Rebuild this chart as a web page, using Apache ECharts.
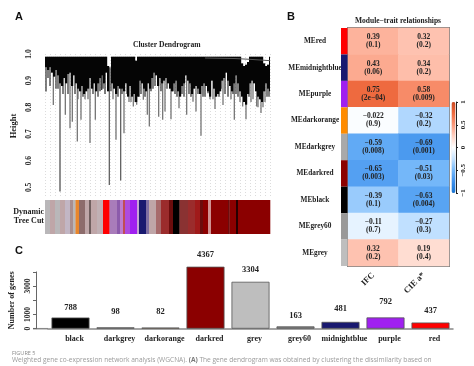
<!DOCTYPE html>
<html><head><meta charset="utf-8">
<style>html,body{margin:0;padding:0;background:#fff}#c{width:474px;height:366px}</style>
<script src="https://cdn.jsdelivr.net/npm/echarts@6/dist/echarts.min.js"></script>
</head><body><div id="c"></div>
<script>
const SERIF = '"Liberation Serif"';
// Panel A: dendrogram, one lower edge of the solid mass per leaf group (left to right)
const treeCore = [
 .95,.94,.95,.93,.915,.94,.92,.89,.88,.91,.89,.925,.93,.88,.92,.89,.87,.86,.88,.85,.86,.87,.91,.87,.89,.86,.89,.91,.92,.89,.93,.86,.94,.89,.87,.85,
 .88,.87,.87,.86,.89,.84,.88,.84,.85,.82,.84,.9,.89,.87,.86,.89,.87,.91,.93,.92,.88,.91,.89,.9,.91,.89,.87,.86,.89,.9,.86,.84,.88,.89,.92,.9,.89,.85,.87,
 .88,.87,.85,.88,.89,.88,.86,.84,.9,.87,.84,.85,.86,.9,.91,.93,.9,.88,.86,.89,.92,.89,.86,.84,.82,.81,.85,.89,.9,.89,.86,.84,.83,.82,.86,.89,.87,.86];
const treeTopDefault = 0.99;
const treeNotches = [[31,.955],[32,.94],[45,.975],[98,.965],[99,.955],[100,.96],[101,.97],[109,.965],[110,.955],[111,.96]];
const treeSpikes = [[1,.859],[8.3,.809],[15,.484],[20.3,.772],[25,.722],[27.3,.746],[32.3,.672],[36,.753],[45,.666],[50.3,.753],[56.7,.865],[64.3,.509],[71,.678],
 [75.7,.526],[79,.703],[88.3,.803],[91.7,.81],[98.3,.828],[102.3,.772],[104.3,.728],[113.7,.765],[117.7,.753],[120,.784],[126,.755],[134,.797],[141.7,.772],[148,.821],
 [151,.784],[156,.693],[163,.853],[170,.794],[174,.84],[178,.809],[186,.83],[189.3,.753],[193,.84],[197.7,.803],[201,.755],[211.7,.803],[216,.779],[224,.84],
 [5,.88],[11,.87],[18,.85],[30,.85],[40,.83],[53,.84],[60,.85],[68,.83],[84,.82],[94,.84],[108,.87],[130,.85],[160,.84],[183,.84],[206,.82],[220,.82],
 [3,.91],[13,.87],[23,.85],[33,.83],[38,.84],[43,.83],[48,.85],[55,.86],[58,.87],[66,.86],[73,.84],[77,.85],[82,.85],[86,.82],[90,.82],[96,.85],[100,.84],[106,.86],
 [110,.88],[116,.86],[122,.87],[128,.86],[132,.84],[137,.85],[139,.84],[144,.85],[146,.84],[153,.85],[158,.84],[165,.83],[168,.83],[172,.85],[176,.87],[180,.85],
 [188,.85],[191,.85],[195,.82],[199,.82],[204,.84],[208,.83],[213,.8],[218,.8],[222,.84]];
const treeRim = [[160,.985],[190,.983],[205,.98],[225,.975]];
// Panel A: dynamic tree cut strip, end position and module blend of each stripe
const cutEnds = [5,10,15,20,25,28,30.5,34,40,44,46,52,58,64.5,72,75,78,80,85,92,94,101,104,111,116,124,128,134.5,143,150,155,158,163,166,183,184.5,191,193,225];
const cutMods = ['grey','greyRed','grey','greyRed','greyPurple','greyRed2','grey','darkorange','brownish','greyRed','greyDark','greyRed','grey2','red','purpleGrey','purpleDark','orchid','redMix','purple2','purple','lilac','midnightblue','slate','greyRed','rose','darkred2','darkred3','black','darkred4','darkred2','darkred5','darkred3','darkred','pale','darkred','darkred3','darkred','nearBlack','darkred'];
const cutColours = {grey:'#b9b7b9',grey2:'#c0b0b4',greyRed:'#bfa6a8',greyPurple:'#c2b6c4',greyRed2:'#a88e90',greyDark:'#6f5e5e',darkorange:'#e8862c',brownish:'#8d6c6c',red:'#ff0000',purpleGrey:'#a97cba',purpleDark:'#8c5bab',orchid:'#bd7ccf',redMix:'#c04d55',purple2:'#ae4be0',purple:'#a020f0',lilac:'#c7a3d3',midnightblue:'#191970',slate:'#7f6fa2',rose:'#a76b6c',darkred:'#8b0000',darkred2:'#9b2c2c',darkred3:'#6b0d0d',darkred4:'#8a3232',darkred5:'#a01a1a',pale:'#cf9292',black:'#000000',nearBlack:'#260000'};

// Panel B
const traits = ['IFC','CIE a*'];
const modules = ['MEred','MEmidnightblue','MEpurple','MEdarkorange','MEdarkgrey','MEdarkred','MEblack','MEgrey60','MEgrey'];
const moduleColours = ['#ff0000','#191970','#a020f0','#ff8c00','#a9a9a9','#8b0000','#000000','#999999','#bebebe'];
const corIFC = [0.39,0.43,0.75,-0.022,-0.59,-0.65,-0.39,-0.11,0.32];
const corCIE = [0.32,0.34,0.58,-0.32,-0.69,-0.51,-0.63,-0.27,0.19];
const pIFC = ['0.1','0.06','2e\u221204','0.9','0.008','0.003','0.1','0.7','0.2'];
const pCIE = ['0.2','0.2','0.009','0.2','0.001','0.03','0.004','0.3','0.4'];

// Panel C
const geneModules = ['black','darkgrey','darkorange','darkred','grey','grey60','midnightblue','purple','red'];
const geneCounts = [788,98,82,4367,3304,163,481,792,437];
const geneColours = ['#000000','#808080','#cd7f32','#8b0000','#bebebe','#808080','#191970','#a020f0','#ff0000'];
const geneLabelGaps = [5,11,11,7,7,6,9,11,7];

const fmtCor = v => String(v).replace('-', '\u2212');
const heatData = [];
modules.forEach((m, r) => {
  heatData.push([0, r, corIFC[r], pIFC[r]]);
  heatData.push([1, r, corCIE[r], pCIE[r]]);
});
const cutData = cutEnds.map((e, i) => [i ? cutEnds[i - 1] : 0, e, cutMods[i]]);
const coreData = treeCore.map((v, i) => {
  const n = treeNotches.find(t => t[0] === i);
  return [i * 2, n ? n[1] : treeTopDefault, v];
});

const chart = echarts.init(document.getElementById('c'), null, {renderer: 'canvas'});
const txt = (text, left, top, size, extra) => ({text, left, top, textStyle: Object.assign({fontFamily: SERIF, fontWeight: 'bold', fontSize: size, color: '#222', lineHeight: size + 1}, extra || {}), padding: 0, itemGap: 0});
const boldSans = {fontFamily: '"Liberation Sans"', color: '#111'};
chart.setOption({
  animation: false,
  backgroundColor: '#fff',
  title: [
    txt('A', 15, 11, 11, boldSans),
    txt('B', 287, 11, 11, boldSans),
    txt('C', 15, 245, 11, boldSans),
    txt('Cluster Dendrogram', 133, 41, 7.6),
    txt('Module\u2212trait relationships', 355, 17, 7.5),
    Object.assign(txt('Dynamic\nTree Cut', 44, 207, 8), {textAlign: 'right'}),
    txt('FIGURE 5', 12, 350, 5.5, {fontFamily: '"Open Sans"', fontWeight: 'normal', color: '#8a8a8a'}),
    {left: 12, top: 357, padding: 0, text: 'Weighted gene co-expression network analysis (WGCNA). {b|(A)} The gene dendrogram was obtained by clustering the dissimilarity based on',
     textStyle: {fontFamily: '"Open Sans"', fontSize: 6.6, color: '#9a9a9a', fontWeight: 'normal', rich: {b: {fontFamily: '"Open Sans"', fontSize: 6.6, color: '#777', fontWeight: 'bold'}}}}
  ],
  grid: [
    {left: 45, top: 54, width: 225, height: 144},
    {left: 45, top: 200, width: 225, height: 34},
    {left: 341, top: 28, width: 6.5, height: 238},
    {left: 348, top: 28, width: 101, height: 238, show: true, borderColor: '#808080', borderWidth: 2, backgroundColor: 'transparent'},
    {left: 456, top: 102, width: 1, height: 91},
    {left: 48, top: 271.9, width: 405, height: 56.8}
  ],
  xAxis: [
    {gridIndex: 0, type: 'value', min: 0, max: 225, interval: 5, axisLine: {show: false}, axisTick: {show: false}, axisLabel: {show: false},
     splitLine: {show: true, lineStyle: {color: '#dcdcdc', type: [1, 2], width: 1}}},
    {gridIndex: 1, type: 'value', min: 0, max: 225, show: false},
    {gridIndex: 2, type: 'value', min: 0, max: 1, show: false},
    {gridIndex: 3, type: 'category', data: traits, axisLine: {show: false}, axisTick: {show: false}, splitLine: {show: false},
     axisLabel: {rotate: 45, interval: 0, margin: 8, fontFamily: SERIF, fontWeight: 'bold', fontSize: 8.5, color: '#222'}},
    {gridIndex: 4, type: 'value', show: false},
    {gridIndex: 5, type: 'category', data: geneModules, axisLine: {lineStyle: {color: '#888', width: 1.5}}, axisTick: {show: false},
     axisLabel: {interval: 0, margin: 6, padding: [0, 0, 0, 8], fontFamily: SERIF, fontWeight: 'bold', fontSize: 8, color: '#222'}}
  ],
  yAxis: [
    {gridIndex: 0, type: 'value', min: 0.46, max: 1, name: 'Height', nameLocation: 'middle', nameGap: 27, nameRotate: 90,
     nameTextStyle: {fontFamily: SERIF, fontWeight: 'bold', fontSize: 8.5, color: '#222'},
     axisLine: {show: false}, axisTick: {show: false}, splitLine: {show: false},
     axisLabel: {customValues: [0.5, 0.6, 0.7, 0.8, 0.9, 1], rotate: 90, margin: 12, formatter: v => v.toFixed(1), fontFamily: SERIF, fontWeight: 'bold', fontSize: 7.5, color: '#222'}},
    {gridIndex: 1, type: 'value', min: 0, max: 1, show: false},
    {gridIndex: 2, type: 'category', inverse: true, data: modules, axisLine: {show: false}, axisTick: {show: false}, splitLine: {show: false},
     axisLabel: {interval: 0, margin: 26, align: 'center', fontFamily: SERIF, fontWeight: 'bold', fontSize: 7.3, color: '#222'}},
    {gridIndex: 3, type: 'category', inverse: true, data: modules, show: false},
    {gridIndex: 4, type: 'value', min: -1, max: 1, interval: 0.5, position: 'right', splitLine: {show: false},
     axisLine: {show: true, lineStyle: {color: '#222', width: 1}}, axisTick: {show: true, length: 2, lineStyle: {color: '#222'}},
     axisLabel: {rotate: 90, margin: 3, fontFamily: SERIF, fontWeight: 'bold', fontSize: 7, color: '#222', formatter: v => fmtCor(v)}},
    {gridIndex: 5, type: 'value', min: 0, max: 4000, interval: 1000, offset: 12, splitLine: {show: false},
     axisLine: {show: true, lineStyle: {color: '#666', width: 1}}, axisTick: {show: true, length: 3, lineStyle: {color: '#666'}},
     name: 'Number of genes', nameLocation: 'middle', nameGap: 15, nameRotate: 90,
     nameTextStyle: {fontFamily: SERIF, fontWeight: 'bold', fontSize: 8, color: '#222'},
     axisLabel: {rotate: 90, margin: 4, fontFamily: SERIF, fontWeight: 'bold', fontSize: 7.5, color: '#222',
       formatter: v => [0, 1000, 3000].includes(v) ? String(v) : ''}}
  ],
  visualMap: {type: 'continuous', seriesIndex: 4, dimension: 2, min: -1, max: 1, calculable: false, show: true, left: 451.5, top: 102, itemWidth: 4, itemHeight: 91, text: ['', ''], padding: 0,
    inRange: {color: ['#1874d2', '#3d90ec', '#76b9fa', '#c6e3ff', '#ffffff', '#ffd2c4', '#fb9a7c', '#ee6a3f', '#cc4a22']}},
  graphic: [{type: 'line', shape: {x1: 33, y1: 328.7, x2: 48, y2: 328.7}, style: {stroke: '#888', lineWidth: 1.5}, silent: true}],
  series: [
    {type: 'custom', name: 'spikes', xAxisIndex: 0, yAxisIndex: 0, data: treeSpikes, z: 2, clip: true,
     renderItem: (p, api) => {
       const x = api.value(0), v = api.value(1);
       const a = api.coord([x, 0.95]), b = api.coord([x, v]);
       const wide = x === 15;
       const colour = wide ? '#8f8f8f' : (v < 0.6 ? '#555' : (v > 0.83 ? '#2a2a2a' : '#6a6a6a'));
       return {type: 'line', shape: {x1: a[0], y1: a[1], x2: b[0], y2: b[1]}, style: {stroke: colour, lineWidth: wide ? 2 : 1.2}};
     }},
    {type: 'custom', name: 'core', xAxisIndex: 0, yAxisIndex: 0, data: coreData, z: 3, clip: true,
     renderItem: (p, api) => {
       const x = api.value(0);
       const a = api.coord([x, api.value(1)]), b = api.coord([x + 2, api.value(2)]);
       return {type: 'rect', shape: {x: a[0], y: a[1], width: b[0] - a[0] + 0.2, height: b[1] - a[1]}, style: {fill: '#050505'}};
     }},
    {type: 'line', name: 'rim', xAxisIndex: 0, yAxisIndex: 0, data: treeRim, showSymbol: false, z: 4, lineStyle: {color: '#555', width: 1}},
    {type: 'custom', name: 'cut', xAxisIndex: 1, yAxisIndex: 1, data: cutData.map(d => [d[0], d[1]]),
     renderItem: (p, api) => {
       const a = api.coord([api.value(0), 1]), b = api.coord([api.value(1), 0]);
       return {type: 'rect', shape: {x: a[0], y: a[1], width: b[0] - a[0] + 0.3, height: b[1] - a[1]}, style: {fill: cutColours[cutData[p.dataIndex][2]]}};
     }},
    {type: 'heatmap', xAxisIndex: 3, yAxisIndex: 3, data: heatData,
     label: {show: true, fontFamily: SERIF, fontWeight: 'bold', fontSize: 7.5, lineHeight: 8, color: '#222',
       formatter: p => fmtCor(p.data[2]) + '\n(' + p.data[3] + ')'}},
    {type: 'bar', xAxisIndex: 2, yAxisIndex: 2, barWidth: '100%', silent: true,
     data: moduleColours.map(c => ({value: 1, itemStyle: {color: c}}))},
    {type: 'bar', xAxisIndex: 5, yAxisIndex: 5, barWidth: 38, clip: false,
     data: geneCounts.map((v, i) => ({value: v, itemStyle: {color: geneColours[i], borderColor: '#555', borderWidth: 0.8},
       label: {show: true, position: 'top', distance: geneLabelGaps[i], fontFamily: SERIF, fontWeight: 'bold', fontSize: 8.5, color: '#222'}}))},
    {type: 'line', xAxisIndex: 4, yAxisIndex: 4, data: []}
  ]
});
</script></body></html>
